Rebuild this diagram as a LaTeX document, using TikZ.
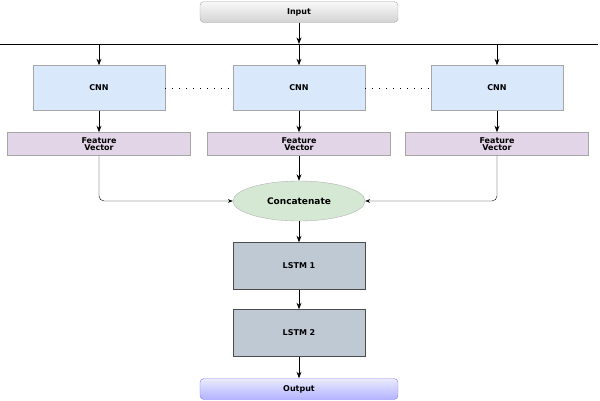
\documentclass[tikz,border=0pt]{standalone}
\usepackage{fontspec}
\setmainfont{DejaVu Sans}
\usetikzlibrary{arrows.meta,shapes.geometric}
\definecolor{cnnblue}{RGB}{218,232,252}
\definecolor{featpink}{RGB}{225,213,231}
\definecolor{catgreen}{RGB}{213,232,212}
\definecolor{lstmgray}{RGB}{190,201,212}
\tikzset{
	box/.style={draw=gray!70, minimum width=132pt, minimum height=45pt, font=\bfseries\fontsize{8}{8}\selectfont},
	cnn/.style={box, fill=cnnblue},
	feat/.style={draw=gray!70, fill=featpink, minimum width=183pt, minimum height=23pt, align=center, font=\bfseries\fontsize{8}{7}\selectfont},
	lstm/.style={box, draw=black!70, fill=lstmgray, minimum height=47pt},
	term/.style={draw=gray!70, rounded corners=4pt, minimum width=198pt, minimum height=21pt, font=\bfseries\fontsize{8}{8}\selectfont}
}
\begin{document}
\begin{tikzpicture}[x=1pt, y=-1pt, >=Stealth]
	\useasboundingbox (0,0) rectangle (600,400);
	% top
	\node[term, top color=gray!5, bottom color=gray!35] (in) at (299,12) {Input};
	\coordinate (bus) at (299,44);
	\draw (0,44) -- (598,44);
	\draw[->, thick] (in) -- (bus);
	% branches
	\foreach \n/\x in {a/99, b/299, c/497}{
		\node[cnn] (cnn\n) at (\x,88) {CNN};
		\node[feat] (fv\n) at (\x,144) {Feature\\Vector};
		\coordinate (top\n) at (\x,44);
		\draw[->, thick] (top\n) -- (cnn\n);
		\draw[->, thick] (cnn\n) -- (fv\n);
	}
	\draw[thick, dash pattern=on 1pt off 6pt] (cnna) -- (cnnb);
	\draw[thick, dash pattern=on 1pt off 6pt] (cnnb) -- (cnnc);
	% merge
	\node[ellipse, draw=gray!60, fill=catgreen, minimum width=132pt, minimum height=40pt, font=\bfseries\fontsize{9}{9}\selectfont] (cat) at (299,201) {Concatenate};
	\draw[->, rounded corners=5pt] (fva.south) |- (cat.west);
	\draw[->, rounded corners=5pt] (fvc.south) |- (cat.east);
	\draw[->, thick] (fvb) -- (cat);
	% stack
	\node[lstm] (l1) at (299,266) {LSTM 1};
	\node[lstm] (l2) at (299,333) {LSTM 2};
	\node[term, draw=blue!50, top color=blue!8, bottom color=blue!30] (out) at (299,389) {Output};
	\draw[->, thick] (cat) -- (l1);
	\draw[->, thick] (l1) -- (l2);
	\draw[->, thick] (l2) -- (out);
\end{tikzpicture}
\end{document}
